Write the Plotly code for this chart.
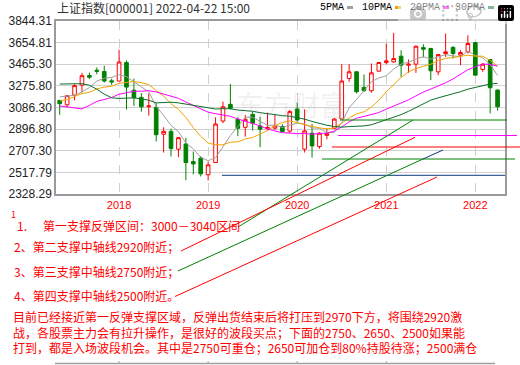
import plotly.graph_objects as go

# ---------------- data ----------------
months = ["2017-05", "2017-06", "2017-07", "2017-08", "2017-09", "2017-10", "2017-11", "2017-12",
          "2018-01", "2018-02", "2018-03", "2018-04", "2018-05", "2018-06", "2018-07", "2018-08",
          "2018-09", "2018-10", "2018-11", "2018-12", "2019-01", "2019-02", "2019-03", "2019-04",
          "2019-05", "2019-06", "2019-07", "2019-08", "2019-09", "2019-10", "2019-11", "2019-12",
          "2020-01", "2020-02", "2020-03", "2020-04", "2020-05", "2020-06", "2020-07", "2020-08",
          "2020-09", "2020-10", "2020-11", "2020-12", "2021-01", "2021-02", "2021-03", "2021-04",
          "2021-05", "2021-06", "2021-07", "2021-08", "2021-09", "2021-10", "2021-11", "2021-12",
          "2022-01", "2022-02", "2022-03", "2022-04"]

opens = [3148, 3110, 3195, 3282, 3366, 3413, 3402, 3320,
         3318, 3480, 3238, 3175, 3093, 3088, 2852, 2877,
         2721, 2767, 2612, 2642, 2497, 2604, 2968, 3114,
         2983, 2913, 3026, 2925, 2900, 2905, 2919, 2880,
         3073, 2721, 2861, 2744, 2842, 2904, 2986, 3341,
         3399, 3262, 3233, 3405, 3480, 3486, 3536, 3457,
         3466, 3611, 3603, 3399, 3559, 3612, 3545, 3574,
         3655, 3420, 3507, 3239]
highs = [3155, 3195, 3290, 3390, 3392, 3437, 3452, 3340,
         3592, 3500, 3340, 3212, 3210, 3125, 2913, 2900,
         2826, 2820, 2700, 2660, 2613, 3000, 3137, 3291,
         3000, 3021, 3050, 3006, 3041, 3029, 2940, 3065,
         3131, 3070, 2942, 2870, 2904, 2995, 3466, 3466,
         3405, 3376, 3472, 3485, 3646, 3740, 3588, 3507,
         3630, 3640, 3610, 3555, 3734, 3625, 3588, 3719,
         3660, 3472, 3510, 3245]
lows = [3022, 3090, 3150, 3220, 3335, 3378, 3305, 3285,
        3318, 3068, 3100, 3050, 3015, 2788, 2692, 2657,
        2651, 2449, 2500, 2482, 2447, 2600, 2948, 3070,
        2837, 2831, 2884, 2738, 2885, 2890, 2870, 2860,
        2962, 2692, 2647, 2725, 2808, 2895, 2986, 3312,
        3210, 3225, 3216, 3400, 3466, 3478, 3355, 3390,
        3390, 3524, 3326, 3370, 3530, 3515, 3457, 3560,
        3370, 3399, 3035, 3059]
closes = [3120, 3190, 3278, 3365, 3352, 3404, 3318, 3310,
          3485, 3265, 3172, 3092, 3100, 2848, 2877, 2727,
          2822, 2604, 2592, 2505, 2584, 2942, 3093, 3079,
          2904, 2983, 2948, 2896, 2912, 2925, 2875, 3050,
          2977, 2881, 2750, 2861, 2858, 2985, 3318, 3399,
          3224, 3233, 3390, 3480, 3495, 3515, 3457, 3466,
          3623, 3597, 3408, 3550, 3574, 3559, 3568, 3647,
          3370, 3466, 3259, 3093]

ma5 = [3180, 3186, 3193, 3222, 3261, 3318, 3343, 3350,
       3374, 3356, 3310, 3265, 3223, 3095, 3018, 2929,
       2875, 2776, 2724, 2650, 2621, 2645, 2743, 2841,
       2920, 3000, 3001, 2962, 2929, 2933, 2911, 2932,
       2948, 2942, 2907, 2904, 2865, 2867, 2954, 3084,
       3157, 3232, 3313, 3345, 3364, 3423, 3467, 3483,
       3511, 3532, 3510, 3529, 3550, 3538, 3532, 3580,
       3544, 3522, 3462, 3367]
ma10 = [3144, 3155, 3182, 3209, 3219, 3249, 3265, 3272,
        3298, 3309, 3314, 3304, 3286, 3235, 3187, 3119,
        3070, 2999, 2910, 2834, 2775, 2760, 2759, 2783,
        2785, 2811, 2823, 2853, 2885, 2927, 2956, 2967,
        2955, 2935, 2920, 2908, 2899, 2907, 2948, 2995,
        3030, 3049, 3090, 3150, 3224, 3290, 3350, 3398,
        3428, 3448, 3466, 3498, 3517, 3524, 3532, 3545,
        3536, 3536, 3500, 3449]
ma20 = [3100, 3091, 3082, 3074, 3104, 3140, 3156, 3174,
        3203, 3219, 3229, 3229, 3234, 3222, 3203, 3184,
        3167, 3135, 3104, 3071, 3045, 3032, 3023, 3009,
        2986, 2965, 2947, 2926, 2897, 2880, 2865, 2863,
        2857, 2859, 2852, 2859, 2861, 2880, 2916, 2961,
        2993, 3008, 3022, 3042, 3072, 3099, 3124, 3153,
        3188, 3222, 3248, 3273, 3303, 3337, 3378, 3417,
        3443, 3467, 3464, 3449]
ma30 = [3292, 3291, 3293, 3295, 3281, 3247, 3204, 3171,
        3166, 3167, 3171, 3162, 3150, 3127, 3132, 3133,
        3127, 3116, 3105, 3091, 3078, 3073, 3076, 3075,
        3064, 3060, 3053, 3041, 3031, 3023, 3015, 3010,
        3000, 2984, 2964, 2946, 2931, 2920, 2914, 2919,
        2920, 2925, 2935, 2956, 2976, 3003, 3024, 3053,
        3087, 3123, 3151, 3171, 3187, 3203, 3225, 3247,
        3261, 3280, 3292, 3298]

y_ticks = [2328.29, 2517.79, 2707.30, 2896.80, 3086.30, 3275.80, 3465.30, 3654.81, 3844.31]
y_ticklabels = ["2328.29", "2517.79", "2707.30", "2896.80", "3086.30",
                "3275.80", "3465.30", "3654.81", "3844.31"]

ma_names = ["5PMA", "10PMA", "20PMA", "30PMA"]
ma_series = [ma5, ma10, ma20, ma30]

title_text = "上证指数[000001] 2022-04-22 15:00"
note_lines = [
    "第一支撑反弹区间：3000－3040区间",
    "2、第二支撑中轴线2920附近；",
    "3、第三支撑中轴线2750附近；",
    "4、第四支撑中轴线2500附近。",
]
para_lines = [
    "目前已经接近第一反弹支撑区域，反弹出货结束后将打压到2970下方，将围绕2920激",
    "战，各股票主力会有拉升操作，是很好的波段买点；下面的2750、2650、2500如果能",
    "打到，都是入场波段机会。其中是2750可重仓；2650可加仓到80%持股待涨；2500满仓",
]

# ---------------- layout geometry ----------------
W, H = 520, 365
ML, MR, MT, MB = 56, 15, 21, 171
PW = W - ML - MR
PH = H - MT - MB


def px(x):
    return (x - ML) / PW


def py(y):
    return (H - MB - y) / PH


x_idx = list(range(len(months)))
year_pos = [i for i, m in enumerate(months) if m.endswith("-01")]
year_txt = [months[i][:4] for i in year_pos]

ma_colors = ["#a0a0a0", "#f5a300", "#ff00ff", "#0a6e2c"]
RED = "#ff0000"
GREEN = "#008000"

fig = go.Figure()

fig.add_trace(go.Candlestick(
    x=x_idx, open=opens, high=highs, low=lows, close=closes,
    increasing=dict(line=dict(color=RED, width=1), fillcolor="#ffffff"),
    decreasing=dict(line=dict(color=GREEN, width=1), fillcolor=GREEN),
    whiskerwidth=0, showlegend=False, hoverinfo="skip",
))

for name, series, col in zip(ma_names, ma_series, ma_colors):
    fig.add_trace(go.Scatter(
        x=x_idx, y=series, mode="lines", name=name,
        line=dict(color=col, width=1), showlegend=False, hoverinfo="skip",
    ))

shapes = []
annotations = []

# support / guide lines drawn on the picture (pixel geometry)
guide_lines = [
    ((340, 120), (507, 120), GREEN),
    ((338, 135.5), (517, 135.5), "#ff00ff"),
    ((332, 147), (520, 147), RED),
    ((322, 159), (515, 159), GREEN),
    ((222, 175.3), (505, 175.3), "#103a80"),
    ((238, 227), (413, 120), GREEN),
    ((181, 251), (415, 137.3), RED),
    ((178, 271), (423, 159), GREEN),
    ((423, 159), (443, 150), "#103a80"),
    ((175, 296.5), (437, 177), RED),
]
for (x0, y0), (x1, y1), col in guide_lines:
    shapes.append(dict(type="line", xref="paper", yref="paper",
                       x0=px(x0), y0=py(y0), x1=px(x1), y1=py(y1),
                       line=dict(color=col, width=1), layer="above"))

# bottom partial axis (cut-off lower panel)
shapes.append(dict(type="line", xref="paper", yref="paper",
                   x0=px(55), y0=py(363.5), x1=px(495), y1=py(363.5),
                   line=dict(color="#a0a0a0", width=1.5)))
for i in year_pos[:4]:
    xx = ML + (i + 0.5) / 60.5 * PW
    shapes.append(dict(type="line", xref="paper", yref="paper",
                       x0=px(xx), y0=py(363.5), x1=px(xx), y1=py(361),
                       line=dict(color="#a0a0a0", width=1)))

# legend (text right-anchored just before each small colour bar)
bar_x = [347, 395, 443, 488]
for name, col, bx in zip(ma_names, ma_colors, bar_x):
    annotations.append(dict(text=name, xref="paper", yref="paper", x=px(bx - 1), y=py(7.5),
                            xanchor="right", yanchor="middle", showarrow=False,
                            font=dict(family="Liberation Mono", size=10, color="#000000")))
    shapes.append(dict(type="rect", xref="paper", yref="paper",
                       x0=px(bx), x1=px(bx + 6), y0=py(9), y1=py(6),
                       fillcolor=col, line=dict(width=0)))

CJK = "Noto Sans CJK SC"

# title
annotations.append(dict(text=title_text, xref="paper", yref="paper", x=px(55), y=py(7.5),
                        xanchor="left", yanchor="middle", showarrow=False,
                        font=dict(family=CJK, size=12, color="#333333")))

# watermark
annotations.append(dict(text="东方财富", xref="paper", yref="paper", x=px(292), y=py(104),
                        xanchor="center", yanchor="middle", showarrow=False,
                        font=dict(family=CJK, size=28, color="rgba(150,150,150,0.13)")))

annotations.append(dict(text="1", xref="paper", yref="paper", x=px(9), y=py(214),
                        xanchor="left", yanchor="middle", showarrow=False,
                        font=dict(family=CJK, size=9, color=RED)))
annotations.append(dict(text="1.", xref="paper", yref="paper", x=px(15), y=py(226),
                        xanchor="left", yanchor="middle", showarrow=False,
                        font=dict(family=CJK, size=12, color=RED)))
note_pos = [(41, 226), (12, 246), (12, 271), (12, 295.5)]
for t, (nx, ny) in zip(note_lines, note_pos):
    annotations.append(dict(text=t, xref="paper", yref="paper", x=px(nx), y=py(ny),
                            xanchor="left", yanchor="middle", showarrow=False,
                            font=dict(family=CJK, size=12, color=RED)))

# paragraph as one multi-line text block
annotations.append(dict(text="<br>".join(para_lines), xref="paper", yref="paper",
                        x=px(11), y=py(331.5), xanchor="left", yanchor="middle",
                        align="left", showarrow=False,
                        font=dict(family=CJK, size=12, color=RED)))

fig.update_layout(
    width=W, height=H,
    margin=dict(l=ML, r=MR, t=MT, b=MB, pad=0, autoexpand=False),
    paper_bgcolor="#ffffff", plot_bgcolor="#ffffff",
    showlegend=False,
    shapes=shapes, annotations=annotations,
    xaxis=dict(range=[-0.5, 60], tickmode="array", tickvals=year_pos, ticktext=year_txt,
               tickfont=dict(family="Liberation Sans", size=11, color=RED),
               showgrid=True, gridcolor="#cfcfcf", griddash="dash", gridwidth=1,
               showline=True, mirror=True, linecolor="#9a9a9a", linewidth=1.5,
               ticks="", zeroline=False, rangeslider=dict(visible=False), fixedrange=True,
               automargin=False),
    yaxis=dict(range=[2328.29, 3844.31], tickmode="array", tickvals=y_ticks, ticktext=y_ticklabels,
               tickfont=dict(family="Liberation Sans", size=12, color="#222222"),
               showgrid=True, gridcolor="#d0d0d0", gridwidth=1,
               showline=True, mirror=True, linecolor="#9a9a9a", linewidth=1.5,
               ticks="", zeroline=False, fixedrange=True, automargin=False),
)

fig.write_html("out.html", post_script="document.body.style.margin='0px';document.body.style.overflow='hidden';")
